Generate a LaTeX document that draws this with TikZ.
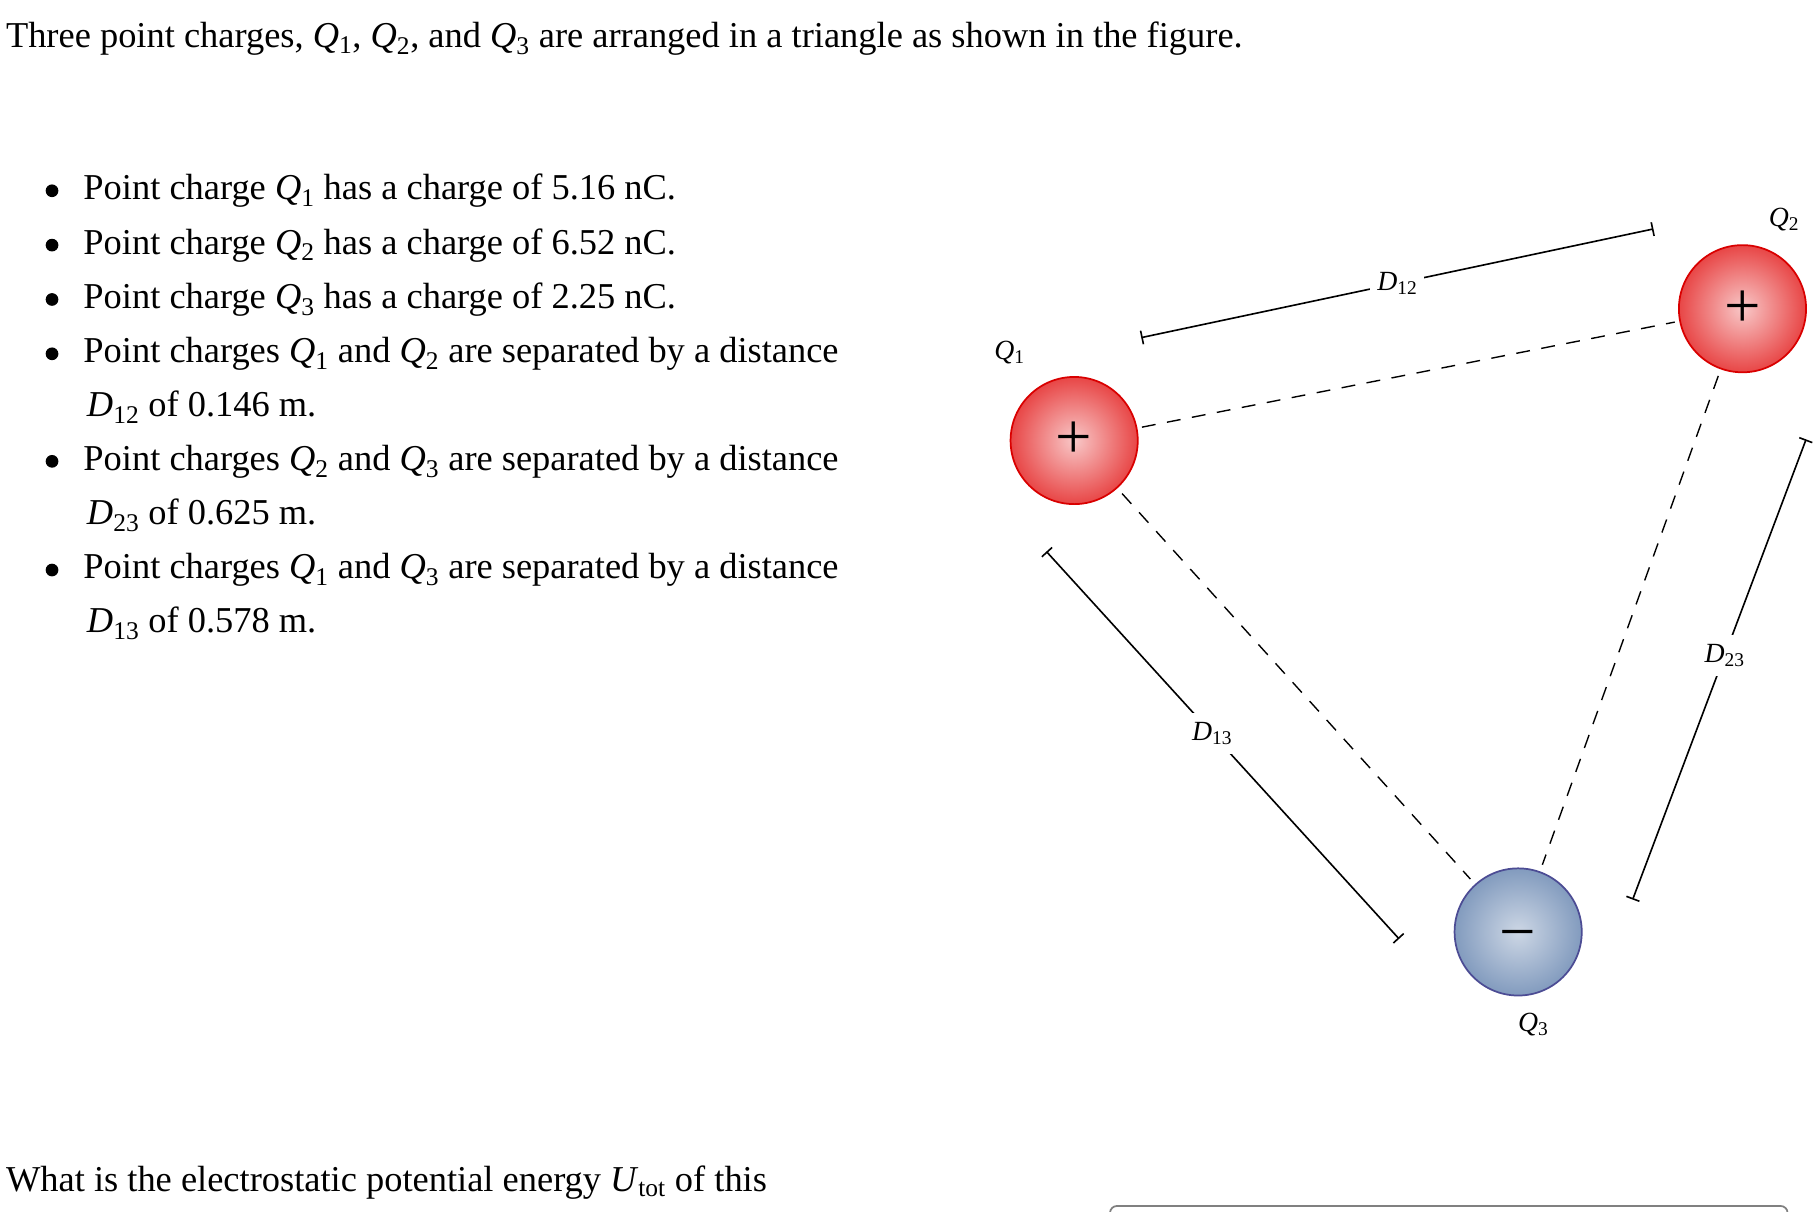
\documentclass[tikz,border=0pt]{standalone}
\usepackage{fontspec}
\setmainfont{Liberation Serif}
\usetikzlibrary{arrows.meta}
\newcommand\QQ[1]{\textit{Q}\textsubscript{#1}}
\newcommand\DD[1]{\textit{D}\textsubscript{#1}}
\definecolor{redc}{RGB}{232,70,70}
\definecolor{bluec}{RGB}{130,155,190}
\tikzset{
 txt/.style={anchor=west,inner sep=0pt,font=\fontsize{31.5}{36}\selectfont},
 lbl/.style={inner sep=1pt,font=\fontsize{24}{26}\selectfont},
 dims/.style={line width=1.4pt,{Bar[width=12pt]}-{Bar[width=12pt]}},
 dsh/.style={line width=1.2pt,dash pattern=on 12pt off 10pt},
 poscharge/.style={circle,minimum size=110pt,draw=red!85!black,line width=1.5pt,inner color=white!70!redc,outer color=redc,font=\fontsize{56}{56}\selectfont},
 negcharge/.style={circle,minimum size=110pt,draw=blue!40!black!70,line width=1.5pt,inner color=white!60!bluec,outer color=bluec,font=\fontsize{56}{56}\selectfont}
}
\begin{document}
\begin{tikzpicture}[x=1pt,y=-1pt]
\useasboundingbox (0,0) rectangle (1568,1048);
\node[txt] (t0) at (5,33) {Three point charges, \QQ1, \QQ2, and \QQ3 are arranged in a triangle as shown in the figure.};
\foreach \y/\t [count=\i] in {165/{Point charge \QQ1 has a charge of 5.16 nC.},
 212/{Point charge \QQ2 has a charge of 6.52 nC.},
 259/{Point charge \QQ3 has a charge of 2.25 nC.},
 306/{Point charges \QQ1 and \QQ2 are separated by a distance},
 399/{Point charges \QQ2 and \QQ3 are separated by a distance},
 493/{Point charges \QQ1 and \QQ3 are separated by a distance}}{
 \node[txt] (b\i) at (72,\y) {\t};
 \fill (45,\y) circle (5.5pt);
}
\node[txt] (c1) at (75,352) {\DD{12} of 0.146 m.};
\node[txt] (c2) at (75,446) {\DD{23} of 0.625 m.};
\node[txt] (c3) at (75,539) {\DD{13} of 0.578 m.};
\node[txt] (q) at (5,1023) {What is the electrostatic potential energy \textit{U}\textsubscript{tot} of this};
\draw[gray,line width=1.5pt,rounded corners=6pt] (960,1052) -- (960,1043) -- (1546,1043) -- (1546,1052);

\node[poscharge] (Q1) at (929,381) {+};
\node[poscharge] (Q2) at (1507,267) {+};
\node[negcharge] (Q3) at (1313,806) {};
\node[font=\fontsize{56}{56}\selectfont,yshift=-9pt] (m3) at (Q3) {−};
\draw[dsh,shorten <=4pt,shorten >=4pt] (Q1) -- (Q2);
\draw[dsh,shorten <=6pt,shorten >=6pt] (Q1) -- (Q3);
\draw[dsh,shorten <=6pt,shorten >=6pt] (Q2) -- (Q3);
\coordinate (a1) at (987,292); \coordinate (a2) at (1430,198);
\coordinate (b1) at (905,477); \coordinate (b2) at (1210,812);
\coordinate (d1) at (1562,380); \coordinate (d2) at (1412,778);
\draw[dims] (a1) -- node[lbl,fill=white,inner sep=6pt] (L12) {\DD{12}} (a2);
\draw[dims] (b1) -- node[lbl,fill=white,inner sep=8pt,pos=0.47] (L13) {\DD{13}} (b2);
\draw[dims] (d1) -- node[lbl,fill=white,inner sep=8pt,pos=0.47] (L23) {\DD{23}} (d2);
\node[lbl] (n1) at (873,305) {\QQ1};
\node[lbl] (n2) at (1543,190) {\QQ2};
\node[lbl] (n3) at (1326,886) {\QQ3};
\end{tikzpicture}
\end{document}
